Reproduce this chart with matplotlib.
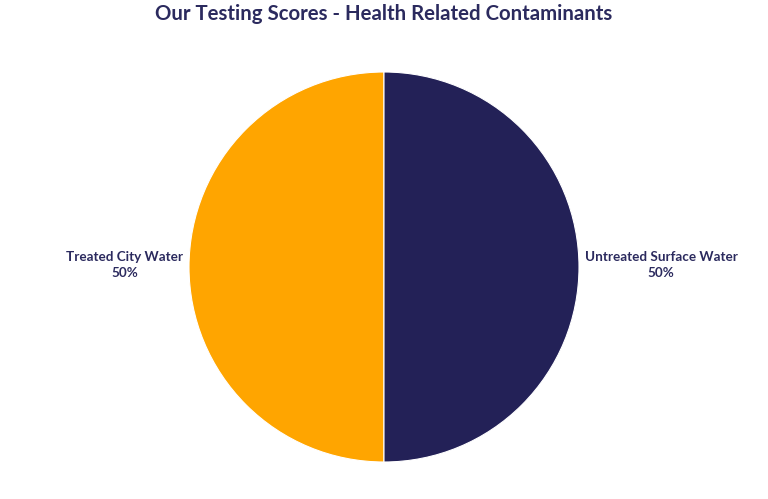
import matplotlib
matplotlib.use("Agg")
import matplotlib.pyplot as plt

categories = ["Treated City Water", "Untreated Surface Water"]
values = [50, 50]
colors = ["#FFA500", "#232157"]
title = "Our Testing Scores - Health Related Contaminants"

plt.rcParams['font.family'] = ['Lato', 'DejaVu Sans']
navy = "#2b2a5e"

fig = plt.figure(figsize=(7.68, 4.99), dpi=100)
W, H = 768, 499
cx, cy, r = 384, 267, 195
ax = fig.add_axes([(cx - r) / W, (H - cy - r) / H, 2 * r / W, 2 * r / H])

total = sum(values)
labels = [f"{c}\n{v / total * 100:.0f}%" for c, v in zip(categories, values)]
wedges, texts = ax.pie(values, colors=colors, startangle=90, counterclock=True,
                       labels=labels, labeldistance=1.03, radius=1,
                       wedgeprops=dict(edgecolor="white", linewidth=0.8),
                       textprops=dict(color=navy, fontsize=9.7, fontweight='bold',
                                      multialignment='center', linespacing=1.4))
for t in texts:
    x, y = t.get_position()
    t.set_position((x, y + 0.012))
ax.set_xlim(-1, 1)
ax.set_ylim(-1, 1)
ax.set_aspect('equal')
ax.axis('off')

fig.text(0.5, 1 - 14 / H, title, ha='center', va='center', fontsize=14.7,
         fontweight='bold', color=navy)

fig.savefig("out.png", dpi=100)
